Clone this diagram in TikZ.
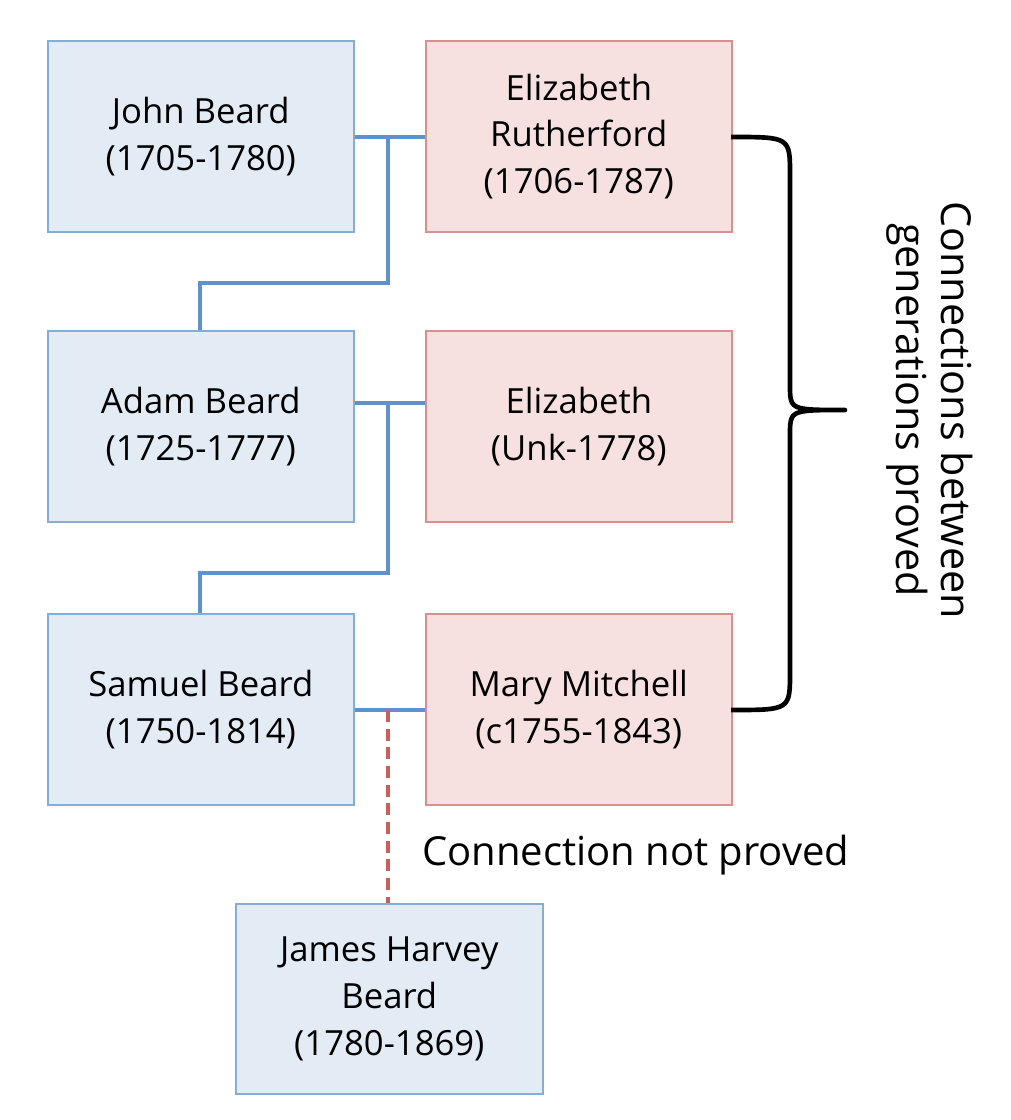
\documentclass[tikz,border=0pt]{standalone}
\usepackage{fontspec}
\setmainfont{Open Sans}
\begin{document}
\begin{tikzpicture}[x=0.75pt,y=-0.75pt,
 box/.style={draw=#1,line width=1.2pt,minimum width=229.5pt,minimum height=143.25pt,anchor=north west,align=center,font=\fontsize{26}{35}\selectfont,inner sep=0pt},
 bl/.style={box=bbord,fill=bfill},
 rd/.style={box=rbord,fill=rfill},
 lk/.style={draw=blink,line width=3.5pt},
]
\definecolor{bfill}{HTML}{E3EBF5}\definecolor{bbord}{HTML}{86ACD8}
\definecolor{rfill}{HTML}{F7E1E0}\definecolor{rbord}{HTML}{D9908C}
\definecolor{blink}{HTML}{5E92CC}\definecolor{rlink}{HTML}{C9605B}
\useasboundingbox (0,0) rectangle (1010,1120);
\node[bl] (john) at (47,40) {John Beard\\(1705-1780)};
\node[rd] (er) at (425,40) {Elizabeth\\Rutherford\\(1706-1787)};
\node[bl] (adam) at (47,330) {Adam Beard\\(1725-1777)};
\node[rd] (el) at (425,330) {Elizabeth\\(Unk-1778)};
\node[bl] (sam) at (47,613) {Samuel Beard\\(1750-1814)};
\node[rd] (mary) at (425,613) {Mary Mitchell\\(c1755-1843)};
\node[bl,minimum width=230.25pt,minimum height=142.5pt] (james) at (235,903) {James Harvey\\Beard\\(1780-1869)};
\coordinate (m1) at (388,137);\coordinate (m2) at (388,403);\coordinate (m3) at (388,710);
\draw[lk] (john.east|-m1) -- (er.west|-m1);
\draw[lk] (m1) -- (388,283) -- (200,283) -- (adam.north-|200,0);
\draw[lk] (adam.east|-m2) -- (el.west|-m2);
\draw[lk] (m2) -- (388,573) -- (200,573) -- (sam.north-|200,0);
\draw[lk] (sam.east|-m3) -- (mary.west|-m3);
\draw[draw=rlink,line width=3.5pt,dash pattern=on 9pt off 5pt] (m3) -- (james.north-|m3);
\node[anchor=west,font=\fontsize{30}{36}\selectfont,inner sep=0pt] (np) at (422,855) {Connection not proved};
\draw[line width=3.5pt,line join=round] (731,137) .. controls (790,137) .. (790,175) -- (790,385) .. controls (790,410) .. (845,410) .. controls (790,410) .. (790,435) -- (790,672) .. controls (790,710) .. (731,710);
\node[rotate=-90,align=center,font=\fontsize{31}{34}\selectfont,inner sep=0pt] (cp) at (930,410) {Connections between\\generations proved};
\end{tikzpicture}
\end{document}
